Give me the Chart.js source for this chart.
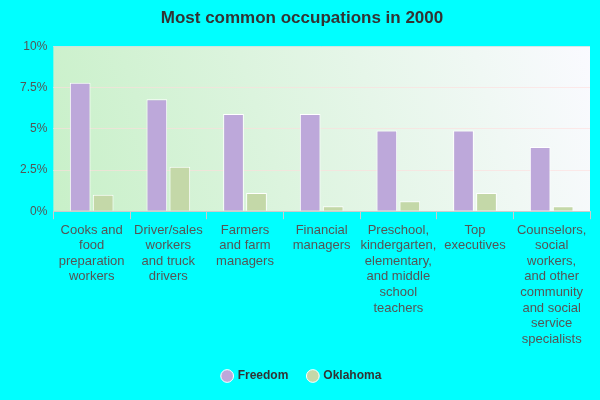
<!DOCTYPE html>
<html><head><meta charset="utf-8">
<script src="https://cdn.jsdelivr.net/npm/chart.js@4"></script>
<style>html,body{margin:0;background:#00ffff}#w{width:600px;height:400px}</style>
</head><body><div id="w"><canvas id="c"></canvas></div>
<script>
const categories=[["Cooks and","food","preparation","workers"],["Driver/sales","workers","and truck","drivers"],["Farmers","and farm","managers"],["Financial","managers"],["Preschool,","kindergarten,","elementary,","and middle","school","teachers"],["Top","executives"],["Counselors,","social","workers,","and other","community","and social","service","specialists"]];
const freedom=[7.8,6.8,5.9,5.9,4.9,4.9,3.9];
const oklahoma=[1.0,2.7,1.1,0.3,0.6,1.1,0.3];
const yTicks={0:"0%",2.5:"2.5%",5:"5%",7.5:"7.5%",10:"10%"};

const bgPlugin={id:"bg",beforeDraw(ch){
  const {ctx,chartArea:a}=ch;
  const g=ctx.createLinearGradient(a.left,a.bottom,a.right,a.top);
  g.addColorStop(0,"#c8f0c8");g.addColorStop(1,"#fafaff");
  ctx.save();ctx.fillStyle=g;ctx.fillRect(a.left,a.top,a.width,a.height);ctx.restore();
}};

new Chart(document.getElementById("c"),{
  type:"bar",
  data:{labels:categories,datasets:[
    {label:"Freedom",data:freedom,backgroundColor:"#bda8da",borderColor:"#ffffff",borderWidth:1,categoryPercentage:0.6,barPercentage:0.9},
    {label:"Oklahoma",data:oklahoma,backgroundColor:"#c4d8a8",borderColor:"#ffffff",borderWidth:1,categoryPercentage:0.6,barPercentage:0.9}
  ]},
  options:{
    responsive:true,maintainAspectRatio:false,animation:false,
    layout:{padding:{left:14,right:10,bottom:8}},
    plugins:{
      title:{display:true,text:"Most common occupations in 2000",color:"#333",font:{family:"Arial",size:17,weight:"bold"},padding:{top:8,bottom:18}},
      legend:{position:"bottom",labels:{usePointStyle:true,pointStyle:"circle",boxWidth:9,boxHeight:9,color:"#333",font:{family:"Arial",size:12,weight:"bold"},padding:20}},
      tooltip:{enabled:false}
    },
    scales:{
      x:{grid:{display:true,drawOnChartArea:false,color:"#ccc",offset:true,tickLength:8},border:{color:"#ccc"},
         ticks:{color:"#555",font:{family:"Arial",size:13},maxRotation:0,autoSkip:false}},
      y:{min:0,max:10,grid:{color:"rgba(255,220,220,0.6)",drawTicks:false},border:{display:false},
         ticks:{stepSize:2.5,color:"#555",font:{family:"Arial",size:12},padding:6,callback:v=>yTicks[v]}}
    }
  },
  plugins:[bgPlugin]
});
</script></body></html>
